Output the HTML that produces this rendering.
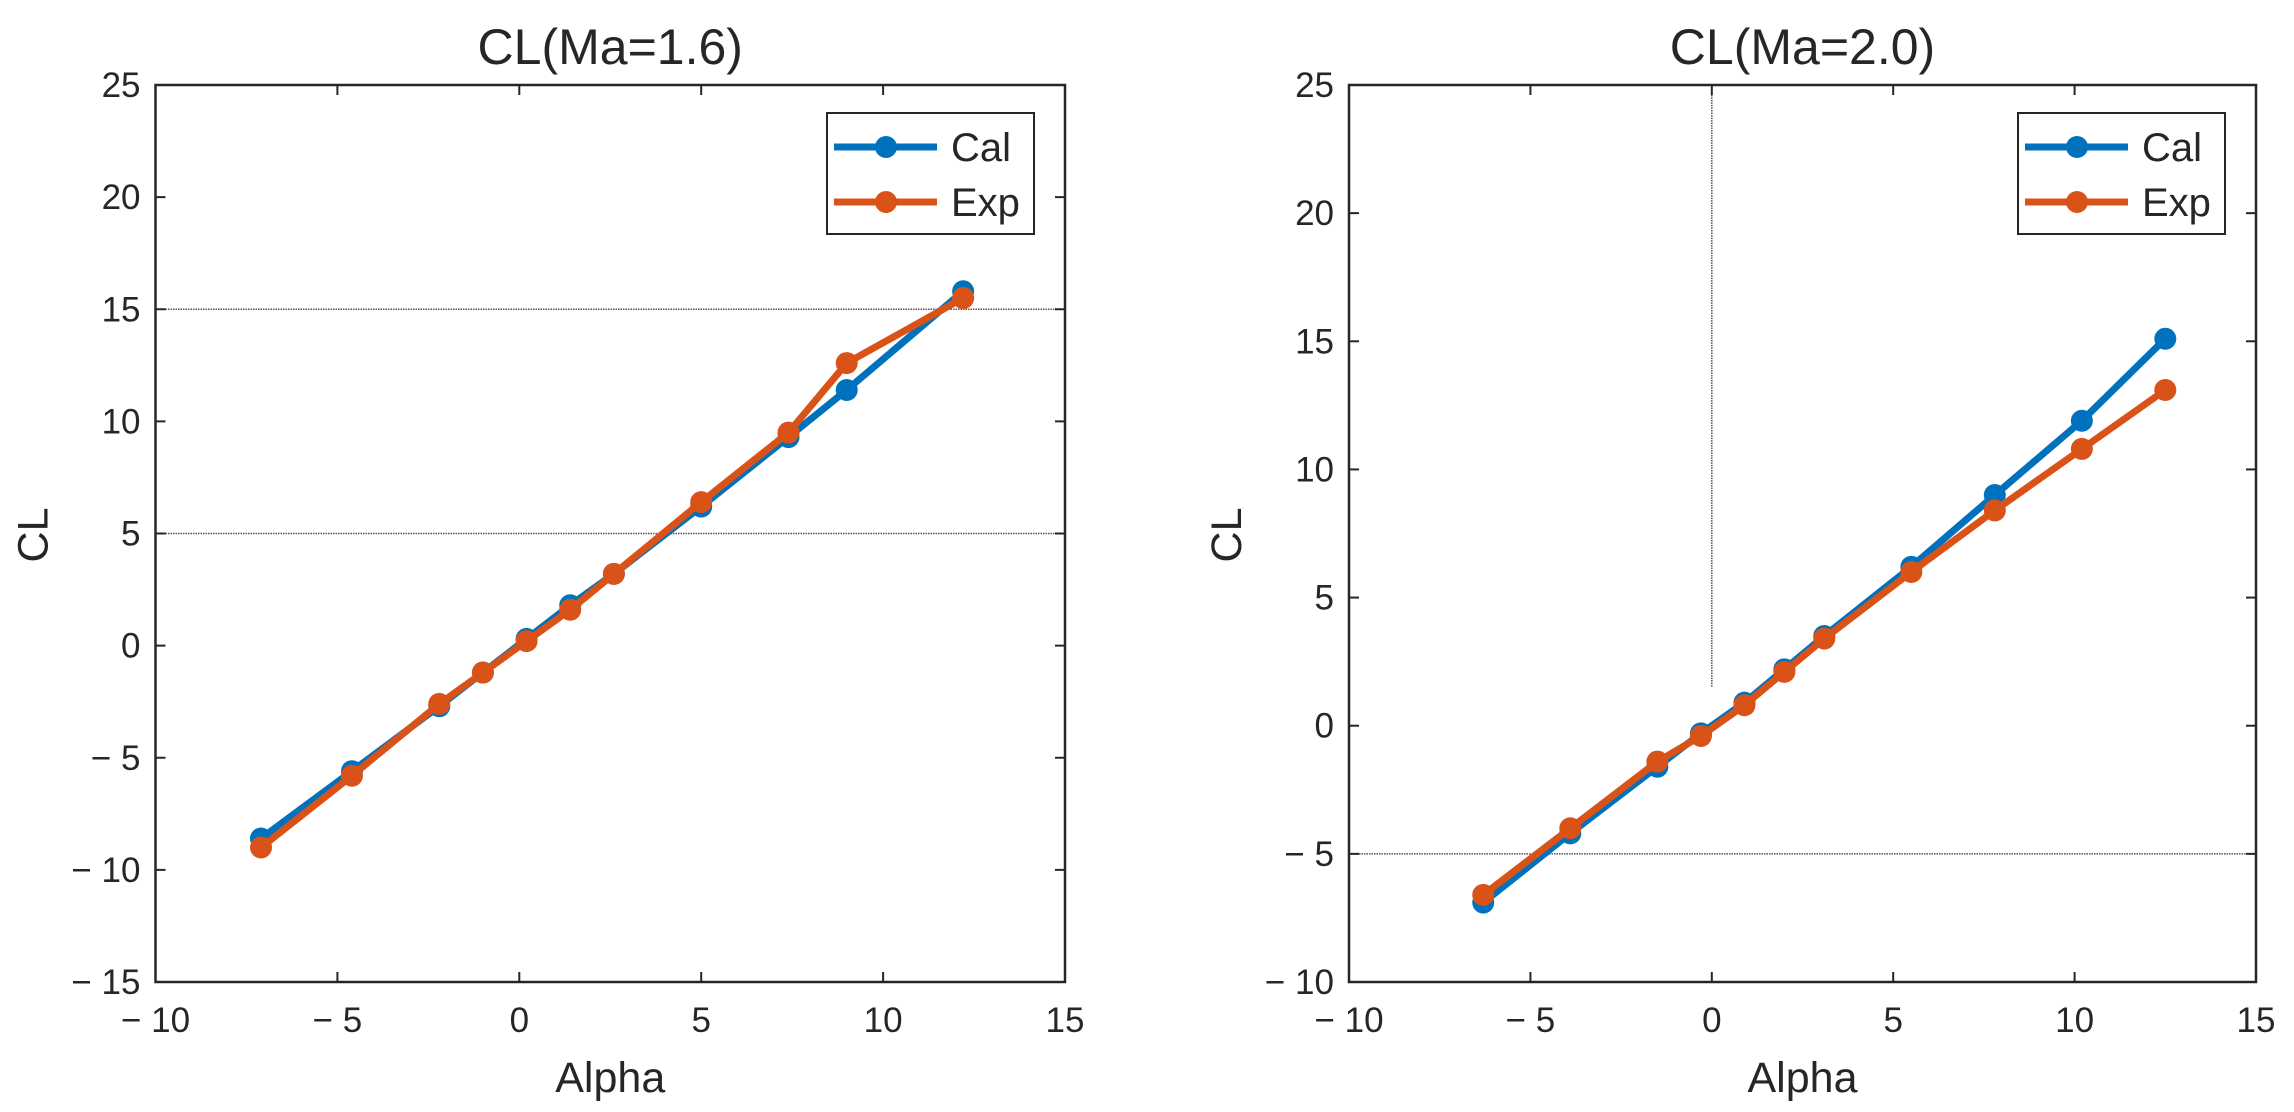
<!DOCTYPE html>
<html><head><meta charset="utf-8"><style>
html,body{margin:0;padding:0;background:#fff;}
svg{display:block;}
text{font-family:"Liberation Sans",sans-serif;fill:#262626;}
</style></head><body>
<svg id="s" width="2294" height="1112" xmlns="http://www.w3.org/2000/svg"></svg>
<script>
const s=document.getElementById('s');
let h='';
function plot(o){
  const L=o.L,R=o.R,T=85,B=982;
  const X=a=>L+(a-o.x0)/(o.x1-o.x0)*(R-L);
  const Y=c=>B-(c-o.y0)/(o.y1-o.y0)*(B-T);
  o.hl.forEach(v=>{h+=`<line x1="${L}" x2="${R}" y1="${Y(v)}" y2="${Y(v)}" stroke="#555" stroke-width="1.5" stroke-dasharray="1.5,1"/>`;});
  o.vl.forEach(v=>{h+=`<line x1="${X(v[0])}" x2="${X(v[0])}" y1="${Y(v[1])}" y2="${Y(v[2])}" stroke="#555" stroke-width="1.5" stroke-dasharray="1.5,1"/>`;});
  for(let a=o.x0;a<=o.x1;a+=5){const x=X(a);
    h+=`<line x1="${x}" x2="${x}" y1="${B}" y2="${B-10}" stroke="#262626" stroke-width="2"/><line x1="${x}" x2="${x}" y1="${T}" y2="${T+10}" stroke="#262626" stroke-width="2"/>`;
    h+=`<text x="${x}" y="${1032}" font-size="35" text-anchor="middle">${a<0?'− '+(-a):a}</text>`;}
  for(let c=o.y0;c<=o.y1;c+=5){const y=Y(c);
    h+=`<line x1="${L}" x2="${L+10}" y1="${y}" y2="${y}" stroke="#262626" stroke-width="2"/><line x1="${R}" x2="${R-10}" y1="${y}" y2="${y}" stroke="#262626" stroke-width="2"/>`;
    h+=`<text x="${L-15}" y="${y+12}" font-size="35" text-anchor="end">${c<0?'− '+(-c):c}</text>`;}
  h+=`<rect x="${L}" y="${T}" width="${R-L}" height="${B-T}" fill="none" stroke="#262626" stroke-width="2.5"/>`;
  [[o.cal,'#0072BD'],[o.exp,'#D95319']].forEach(([d,col])=>{
    h+=`<polyline fill="none" stroke="${col}" stroke-width="7" stroke-linejoin="round" points="${d.map(p=>X(p[0])+','+Y(p[1])).join(' ')}"/>`;
    d.forEach(p=>{h+=`<circle cx="${X(p[0])}" cy="${Y(p[1])}" r="11" fill="${col}"/>`;});
  });
  const cx=(L+R)/2;
  h+=`<text x="${cx}" y="64" font-size="50" text-anchor="middle" fill="#000">${o.title}</text>`;
  h+=`<text x="${cx}" y="1092" font-size="43" text-anchor="middle">Alpha</text>`;
  h+=`<text transform="translate(${L-108},535) rotate(-90)" font-size="43" text-anchor="middle">CL</text>`;
  const lx=R-238,ly=113;
  h+=`<rect x="${lx}" y="${ly}" width="207" height="121" fill="#fff" stroke="#262626" stroke-width="2"/>`;
  [['Cal','#0072BD',147],['Exp','#D95319',202]].forEach(([t,col,y])=>{
    h+=`<line x1="${lx+7}" x2="${lx+110}" y1="${y}" y2="${y}" stroke="${col}" stroke-width="7"/><circle cx="${lx+59}" cy="${y}" r="11" fill="${col}"/>`;
    h+=`<text x="${lx+124}" y="${y+14}" font-size="40" fill="#000">${t}</text>`;});
}
plot({L:155.5,R:1065,x0:-10,x1:15,y0:-15,y1:25,title:'CL(Ma=1.6)',hl:[15,5],vl:[],
 cal:[[-7.1,-8.6],[-4.6,-5.6],[-2.2,-2.7],[-1.0,-1.2],[0.2,0.3],[1.4,1.8],[2.6,3.2],[5.0,6.2],[7.4,9.3],[9.0,11.4],[12.2,15.8]],
 exp:[[-7.1,-9.0],[-4.6,-5.8],[-2.2,-2.6],[-1.0,-1.2],[0.2,0.2],[1.4,1.6],[2.6,3.2],[5.0,6.4],[7.4,9.5],[9.0,12.6],[12.2,15.5]]});
plot({L:1349,R:2256,x0:-10,x1:15,y0:-10,y1:25,title:'CL(Ma=2.0)',hl:[-5],vl:[[0,25,1.5]],
 cal:[[-6.3,-6.9],[-3.9,-4.2],[-1.5,-1.6],[-0.3,-0.3],[0.9,0.9],[2.0,2.2],[3.1,3.5],[5.5,6.2],[7.8,9.0],[10.2,11.9],[12.5,15.1]],
 exp:[[-6.3,-6.6],[-3.9,-4.0],[-1.5,-1.4],[-0.3,-0.4],[0.9,0.8],[2.0,2.1],[3.1,3.4],[5.5,6.0],[7.8,8.4],[10.2,10.8],[12.5,13.1]]});
s.innerHTML=h;
</script>
</body></html>
